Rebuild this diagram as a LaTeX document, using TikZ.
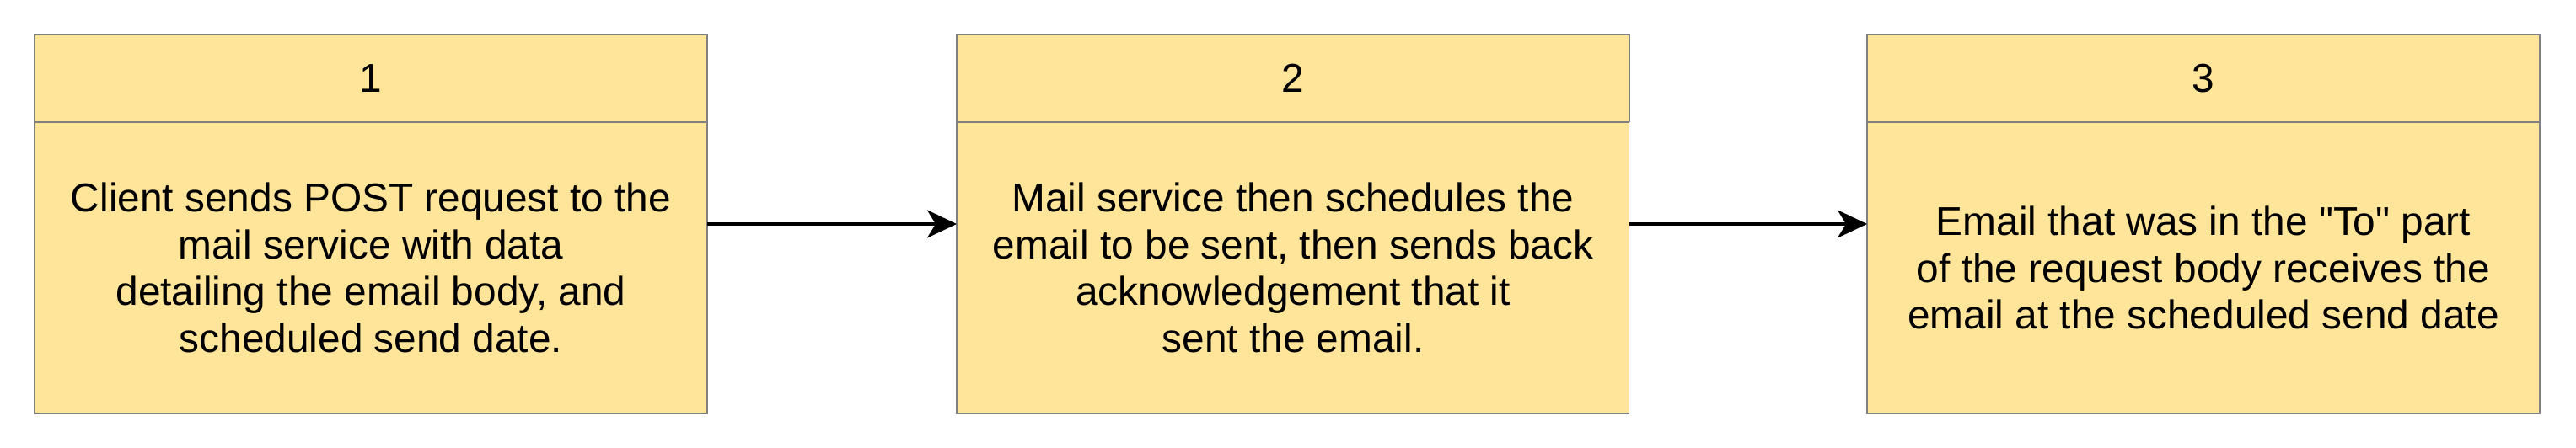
\documentclass[tikz,border=0pt]{standalone}
\usepackage{fontspec}
\setmainfont{Liberation Sans}
\usepackage{tikz}
\usetikzlibrary{calc,arrows.meta}
\definecolor{stepfill}{HTML}{FFE599}
\definecolor{stepline}{HTML}{808080}

\begin{document}
\begin{tikzpicture}[
        step-box/.style={rectangle, fill=stepfill, draw=stepline, line width=0.8pt,
            minimum width=7.98cm, minimum height=4.5cm, anchor=north west, outer sep=0pt},
        step-line/.style={draw=stepline, line width=0.8pt},
        step-text/.style={align=center, font=\fontsize{13.6}{15.8}\selectfont},
        flow/.style={line width=1pt, -{Stealth[length=0.35cm, width=0.33cm, inset=0.1cm]}}
    ]
            \useasboundingbox (0, 0) rectangle (30.56, 5.32);
            % boxes
            \node[step-box] (box-1) at (0.41, 4.91) {};
            \node[step-box, draw=none] (box-2) at (11.35, 4.91) {};
            \node[step-box] (box-3) at (22.15, 4.91) {};
            % dividers
            \coordinate (divider-1) at ([yshift=-1.04cm]box-1.north east);
            \coordinate (divider-2) at ([yshift=-1.04cm]box-2.north east);
            \coordinate (divider-3) at ([yshift=-1.04cm]box-3.north east);
            \draw[step-line] (divider-1) -- (divider-1 -| box-1.west);
            \draw[step-line] (divider-2) -- (divider-2 -| box-2.west);
            \draw[step-line] (divider-3) -- (divider-3 -| box-3.west);
            % box 2 has no right edge under the header
            \draw[step-line] (divider-2) -- (box-2.north east) -- (box-2.north west)
                -- (box-2.south west) -- (box-2.south east);
            % numbers
            \node[step-text] (num-1) at ([yshift=-0.52cm]box-1.north) {1};
            \node[step-text] (num-2) at ([yshift=-0.52cm]box-2.north) {2};
            \node[step-text] (num-3) at ([yshift=-0.52cm]box-3.north) {3};
            % texts
            \node[step-text] (text-1) at ([yshift=1.73cm]box-1.south)
                {Client sends POST request to the\\mail service with data\\detailing the email body, and\\scheduled send date.};
            \node[step-text] (text-2) at ([yshift=1.73cm]box-2.south)
                {Mail service then schedules the\\email to be sent, then sends back\\acknowledgement that it\\sent the email.};
            \node[step-text] (text-3) at ([yshift=1.73cm]box-3.south)
                {Email that was in the \textquotedbl To\textquotedbl{} part\\of the request body receives the\\email at the scheduled send date};
            % arrows
            \draw[flow] (box-1) -- (box-2);
            \draw[flow] (box-2) -- (box-3);
        \end{tikzpicture}
\end{document}
